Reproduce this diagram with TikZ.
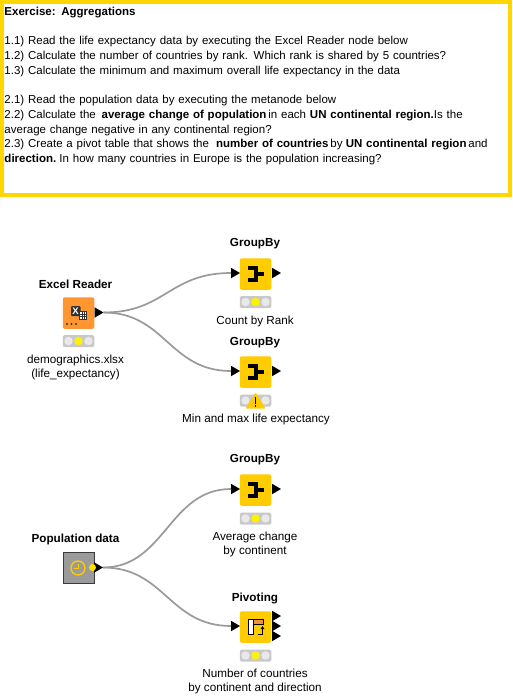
\documentclass[tikz,border=0pt]{standalone}
\usepackage{fontspec}
\setmainfont{Liberation Sans}
\usetikzlibrary{shapes.geometric}
\definecolor{noteborder}{HTML}{FFD700}
\definecolor{manip}{HTML}{FFCC00}
\definecolor{srcorange}{HTML}{FF9632}
\definecolor{metagrey}{HTML}{9B9B9B}
\definecolor{metaborder}{HTML}{3C3C3C}
\definecolor{lampbar}{HTML}{C9C9C9}
\definecolor{lampoff}{HTML}{E9E9E9}
\definecolor{lampon}{HTML}{FFF200}
\definecolor{wire}{HTML}{9A9A9A}
\definecolor{pivorange}{HTML}{F0923C}
\tikzset{
  x=1pt,y=-1pt,
  every node/.style={font=\fontsize{11.7}{14.9}\selectfont, inner sep=0pt, outer sep=0pt},
  lbl/.style={align=center},
  title/.style={font=\fontsize{11.7}{14.9}\selectfont\bfseries},
  knode/.style={minimum size=31.5pt, rounded corners=2pt, draw=none},
  portout/.style={isosceles triangle, isosceles triangle stretches, minimum height=9pt, minimum width=10.5pt, fill=black, anchor=lower side},
  wireline/.style={draw=wire, line width=1.7pt},
  glyph/.style={line width=4pt, black},
  lights/.pic={
    \fill[lampbar, rounded corners=1.5pt] (-15.75,-6) rectangle (15.75,6);
    \fill[lampoff] (-10,0) circle (4.2);
    \fill[lampon] (0,0) circle (4.2);
    \fill[lampoff] (10,0) circle (4.2);
  },
  groupglyph/.pic={
    \draw[glyph] (-8,-6) -- (0,-6) -- (0,6) -- (-8,6);
    \draw[glyph] (0,0) -- (8,0);
  }
}
\begin{document}
\begin{tikzpicture}
\useasboundingbox (0,0) rectangle (512,696);
\fill[white] (0,0) rectangle (512,696);
% annotation
\node[draw=noteborder, line width=4pt, fill=white, minimum width=508pt, minimum height=193pt, anchor=north west] (frame) at (2,2) {};
\node[anchor=north west, align=left, text width=504pt, font=\fontsize{11.5}{14.75}\selectfont] (note) at (4.5,6.8) {%
\textbf{Exercise: Aggregations}\\
\mbox{}\\
1.1) Read the life expectancy data by executing the Excel Reader node below\\
1.2) Calculate the number of countries by rank. Which rank is shared by 5 countries?\\
1.3) Calculate the minimum and maximum overall life expectancy in the data\\
\mbox{}\\
2.1) Read the population data by executing the metanode below\\
2.2) Calculate the \,\textbf{average change of population}\,in each \textbf{UN continental region.}Is the\\
average change negative in any continental region?\\
2.3) Create a pivot table that shows the \;\textbf{number of countries}\,by\;\textbf{UN continental region}\,and\\
\textbf{direction.}\;In how many countries in Europe is the population increasing?};

% nodes
\node[knode, fill=srcorange] (excel) at (78.5,313) {};
\node[knode, fill=manip] (gb1) at (255.5,274) {};
\node[knode, fill=manip] (gb2) at (255.5,372) {};
\node[knode, fill=manip] (gb3) at (255.5,490) {};
\node[knode, fill=manip] (pivot) at (255.5,627) {};
\node[minimum size=31pt, fill=metagrey, draw=metaborder, line width=1pt] (meta) at (78.5,568) {};

% labels
\node[title] (lExcel) at (75.5,284) {Excel Reader};
\node[lbl] (dExcel) at (75.5,367.5) {demographics.xlsx\\(life\_expectancy)};
\node[title] (lGb1) at (255,244) {GroupBy};
\node[lbl] (dGb1) at (255,321) {Count by Rank};
\node[title] (lGb2) at (255,343) {GroupBy};
\node[lbl] (dGb2) at (256,419) {Min and max life expectancy};
\node[title] (lGb3) at (255,460) {GroupBy};
\node[lbl] (dGb3) at (255,544.5) {Average change\\by continent};
\node[title] (lMeta) at (75.5,539) {Population data};
\node[title] (lPivot) at (255,598) {Pivoting};
\node[lbl] (dPivot) at (255,681.5) {Number of countries\\by continent and direction};

% ports
\node[portout] (excelOut) at (94.5,312.5) {};
\node[portout] (gb1In) at (231,273) {};
\node[portout] (gb1Out) at (272,273) {};
\node[portout] (gb2In) at (231,371) {};
\node[portout] (gb2Out) at (272,371) {};
\node[portout] (gb3In) at (231,489) {};
\node[portout] (gb3Out) at (272,489) {};
\node[portout] (pivotIn) at (231,626) {};
\node[portout] (pivotOut1) at (272,616) {};
\node[portout] (pivotOut2) at (272,626) {};
\node[portout] (pivotOut3) at (272,636) {};
\node[portout] (metaOut) at (94,567.5) {};

% connectors
\draw[wireline] (excelOut.east) .. controls +(62,0) and +(-62,0) .. (gb1In.west);
\draw[wireline] (excelOut.east) .. controls +(62,0) and +(-62,0) .. (gb2In.west);
\draw[wireline] (metaOut.east) .. controls +(62,0) and +(-62,0) .. (gb3In.west);
\draw[wireline] (metaOut.east) .. controls +(62,0) and +(-62,0) .. (pivotIn.west);

% traffic lights
\pic at (78.5,341) {lights};
\pic at (255.5,302) {lights};
\pic at (255.5,400.5) {lights};
\pic at (255.5,518.5) {lights};
\pic at (255.5,655.5) {lights};

% warning
\fill[manip, rounded corners=1pt] (255.5,392.5) -- (265.5,408.5) -- (245.5,408.5) -- cycle;
\fill[black] (254.7,397) rectangle (256.3,403.5);
\fill[black] (254.7,404.8) rectangle (256.3,406.5);

% group glyphs
\pic at (255.5,273.5) {groupglyph};
\pic at (255.5,371.5) {groupglyph};
\pic at (255.5,489.5) {groupglyph};

% excel glyph
\fill[black!80, rounded corners=1pt] (71,306) rectangle (80.5,316);
\node[text=white, font=\fontsize{9.5}{10}\selectfont\bfseries] (xmark) at (75.6,311) {X};
\draw[black!80, fill=white, line width=.7pt] (79.5,311.5) rectangle (86.5,319);
\draw[black!80, line width=.6pt] (79.5,314) -- (86.5,314) (79.5,316.5) -- (86.5,316.5) (81.8,311.5) -- (81.8,319) (84.2,311.5) -- (84.2,319);
\fill[black!80] (67,324) circle (1.2) (71.5,324) circle (1.2) (76,324) circle (1.2);

% metanode glyphs
\draw[manip, line width=1.3pt] (78,568) circle (7);
\draw[manip, line width=1pt] (78,563.5) -- (78,568.5) -- (74,568.5);
\fill[lampon!85!orange] (92.5,567.5) circle (3.5);

% pivot glyph
\draw[black, fill=white, line width=1pt] (248,619.5) rectangle (253,634);
\draw[black, fill=pivorange, line width=1pt] (253,619.5) rectangle (263,624);
\draw[black, line width=1pt] (257.5,634) -- (262.5,634) -- (262.5,628);
\fill[black] (262.5,626) -- (260.5,629) -- (264.5,629) -- cycle;
\end{tikzpicture}
\end{document}
